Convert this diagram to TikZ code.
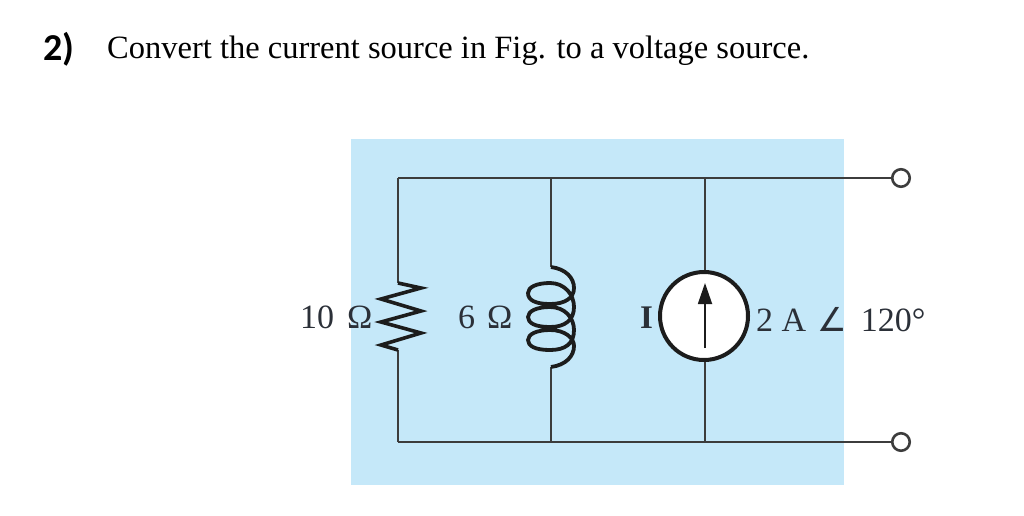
\documentclass[tikz,border=0pt]{standalone}
\usepackage{fontspec}
\setmainfont{Liberation Serif}
\newfontfamily\calib{Carlito}
\newfontfamily\djv{DejaVu Sans}
\usetikzlibrary{arrows.meta}
\definecolor{panelblue}{HTML}{C5E8F9}
\definecolor{wirecol}{HTML}{3C3C3C}
\definecolor{inkcol}{HTML}{1C1C1C}
\definecolor{labcol}{HTML}{2B3038}
\tikzset{
  wire/.style={draw=wirecol,line width=1.6pt},
  comp/.style={draw=inkcol,line width=3.6pt,line join=miter},
  term/.style={circle,draw=wirecol,fill=white,line width=2.6pt,minimum size=17.5pt,inner sep=0pt},
  lab/.style={inner sep=0pt,anchor=base west,text=labcol,font=\fontsize{34}{34}\selectfont},
  title/.style={inner sep=0pt,anchor=base west,text=black}
}
\begin{document}
\begin{tikzpicture}[x=1pt,y=-1pt]
\useasboundingbox (0,0) rectangle (1024,515);
\fill[white] (0,0) rectangle (1024,515);
\fill[panelblue] (351,139) rectangle (844,485);
\node[title,font=\calib\bfseries\fontsize{38}{38}\selectfont] (num) at (43,60) {2)};
\node[title,font=\fontsize{32.5}{33}\selectfont] (head) at (107,58.5) {Convert the current source in Fig. to a voltage source.};
\coordinate (tl) at (398,178);
\coordinate (bl) at (398,442);
\coordinate (tm) at (551,178);
\coordinate (bm) at (551,442);
\coordinate (ts) at (705,178);
\coordinate (bs) at (705,442);
\coordinate (rt) at (398,283);
\coordinate (rb) at (398,350);
\coordinate (lt) at (551,267);
\coordinate (lb) at (551,367);
\node[term] (t1) at (901,178) {};
\node[term] (t2) at (901,442) {};
\node[circle,draw=inkcol,fill=white,line width=4pt,minimum size=88pt,inner sep=0pt] (src) at (704,316) {};
\draw[wire] (tl) -- (t1);
\draw[wire] (bl) -- (t2);
\draw[wire] (tl) -- (rt);
\draw[wire] (bl) -- (rb);
\draw[wire] (tm) -- (lt);
\draw[wire] (bm) -- (lb);
\draw[wire] (ts) -- (ts |- src.north);
\draw[wire] (bs) -- (bs |- src.south);
\draw[comp] (rt) -- (421,288) -- (381,299) -- (421,311) -- (381,322) -- (421,333) -- (381,345) -- (rb);
\draw[comp,line width=3.8pt] (lt) .. controls (566,269) and (574,278) .. (574,288)
  .. controls (574,298) and (565,304) .. (550,304)
  .. controls (535,304) and (528,300) .. (528,293)
  .. controls (528,287) and (537,283) .. (550,283)
  .. controls (565,283) and (574,295) .. (574,307)
  .. controls (574,320) and (565,327) .. (550,327)
  .. controls (535,327) and (528,323) .. (528,317)
  .. controls (528,311) and (537,307) .. (550,307)
  .. controls (565,307) and (574,318) .. (574,330)
  .. controls (574,344) and (565,350) .. (550,350)
  .. controls (535,350) and (528,346) .. (528,340)
  .. controls (528,334) and (537,330) .. (550,330)
  .. controls (565,330) and (574,338) .. (574,346)
  .. controls (574,356) and (566,365) .. (lb);
\coordinate (atail) at (705,348);
\coordinate (ahead) at (705,283);
\draw[draw=inkcol,line width=1.8pt,-{Triangle[length=21pt,width=14pt,fill=inkcol]}] (atail) -- (ahead);
\node[lab] (l10) at (300,328) {10\hspace{13pt}Ω};
\node[lab] (l6) at (458,328) {6\hspace{12pt}Ω};
\node[lab,font=\bfseries\fontsize{33}{33}\selectfont] (li) at (640,328) {I};
\node[lab] (lv) at (756,331) {2 A\hspace{11pt}{\djv\fontsize{33}{33}\selectfont ∠}\hspace{14pt}120°};
\end{tikzpicture}
\end{document}
